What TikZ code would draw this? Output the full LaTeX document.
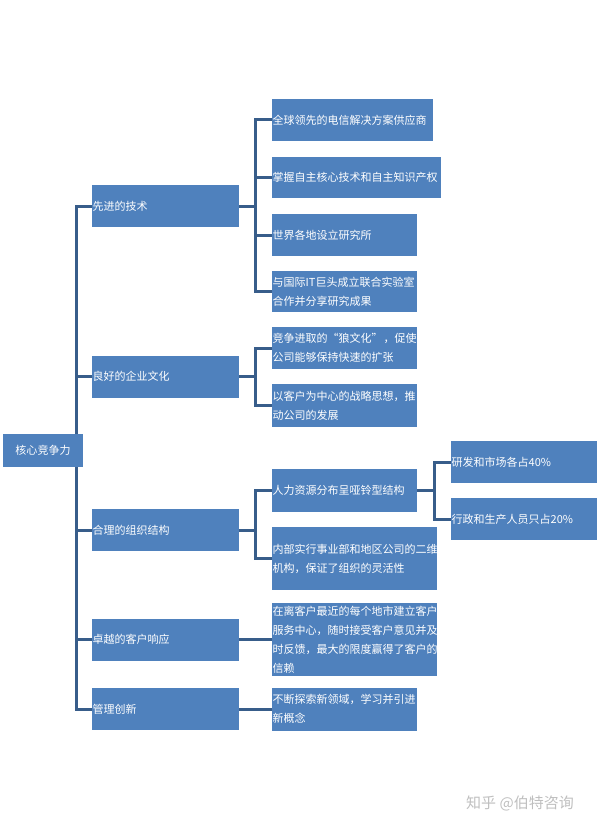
\documentclass[tikz,border=0pt]{standalone}
\usepackage{fontspec}
\setmainfont{Noto Sans CJK SC}
\usepackage{xcolor}
\usepackage{tikz}
\usetikzlibrary{positioning,calc,backgrounds}
\definecolor{boxblue}{HTML}{4F81BD}
\definecolor{linkblue}{HTML}{385D8A}
\tikzset{
  root/.style={rectangle,fill=boxblue,text=white,minimum width=80pt,
               minimum height=33pt,align=center,font=\fontsize{11}{19}\selectfont},
  topic/.style={rectangle,fill=boxblue,text=white,anchor=west,inner xsep=0.5pt,
                text width=146pt,minimum height=42pt,align=left,
                font=\fontsize{11}{19}\selectfont},
  item/.style={rectangle,fill=boxblue,text=white,anchor=west,inner xsep=0.5pt,
               align=left,font=\fontsize{11}{19}\selectfont},
  link/.style={draw=linkblue,line width=3pt},
  wmark/.style={text=black!25,font=\fontsize{15}{18}\selectfont},
}

\begin{document}
\begin{tikzpicture}[x=1pt,y=-1pt]
  \useasboundingbox (0,0) rectangle (600,829);
  % --- 根节点 ---
  \node[root] (core) at (43,450.5) {核心竞争力};
  \coordinate (trunk) at (76,450.5);
  % --- 第一层 ---
  \node[topic] (tech)    at (92,206)   {先进的技术};
  \node[topic] (culture) at (92,376.5) {良好的企业文化};
  \node[topic] (org)     at (92,530)   {合理的组织结构};
  \node[topic] (cust)    at (92,639.5) {卓越的客户响应};
  \node[topic] (innov)   at (92,709)   {管理创新};
  % --- 第二层 ---
  \node[item,text width=160pt,minimum height=42pt] (t1) at (272,120)
    {全球领先的电信解决方案供应商};
  \node[item,text width=168pt,minimum height=41pt] (t2) at (272,177.5)
    {掌握自主核心技术和自主知识产权};
  \node[item,text width=144pt,minimum height=42pt] (t3) at (272,235)
    {世界各地设立研究所};
  \node[item,text width=144pt,minimum height=41pt] (t4) at (272,291.5)
    {与国际IT巨头成立联合实验室\\合作并分享研究成果};
  \node[item,text width=144pt,minimum height=42pt] (c1) at (272,348)
    {竞争进取的“狼文化”\hspace{1pt}，促使\\公司能够保持快速的扩张};
  \node[item,text width=144pt,minimum height=43pt] (c2) at (272,405.5)
    {以客户为中心的战略思想，推\\动公司的发展};
  \node[item,text width=144pt,minimum height=43pt] (o1) at (272,490.5)
    {人力资源分布呈哑铃型结构};
  \node[item,text width=164pt,minimum height=63pt] (o2) at (272,558.5)
    {内部实行事业部和地区公司的二维\\机构，保证了组织的灵活性};
  \node[item,text width=164pt,minimum height=67pt] (r1) at (272,639.5)
    {在离客户最近的每个地市建立客户\\服务中心，随时接受客户意见并及\\时反馈，最大的限度赢得了客户的\\信赖};
  \node[item,text width=144pt,minimum height=43pt] (n1) at (272,709)
    {不断探索新领域，学习并引进\\新概念};
  % --- 第三层 ---
  \node[item,text width=145pt,minimum height=42pt] (h1) at (451,462)
    {研发和市场各占40\%};
  \node[item,text width=145pt,minimum height=42pt] (h2) at (451,519)
    {行政和生产人员只占20\%};
  % --- 水印 ---
  \node[wmark] (wm) at (520,803) {知乎 @伯特咨询};
  % --- 连线 ---
  \begin{scope}[on background layer]
    \foreach \n in {tech,culture,org,cust,innov}
      \draw[link] (trunk) |- (\n.west);
    \foreach \n in {t1,t2,t3,t4}
      \draw[link] (tech.east) -- ++(16,0) |- (\n.west);
    \foreach \n in {c1,c2}
      \draw[link] (culture.east) -- ++(16,0) |- (\n.west);
    \foreach \n in {o1,o2}
      \draw[link] (org.east) -- ++(16,0) |- (\n.west);
    \foreach \n in {h1,h2}
      \draw[link] (o1.east) -- ++(17,0) |- (\n.west);
    \draw[link] (cust.east) -- (r1.west);
    \draw[link] (innov.east) -- (n1.west);
  \end{scope}
\end{tikzpicture}
\end{document}
